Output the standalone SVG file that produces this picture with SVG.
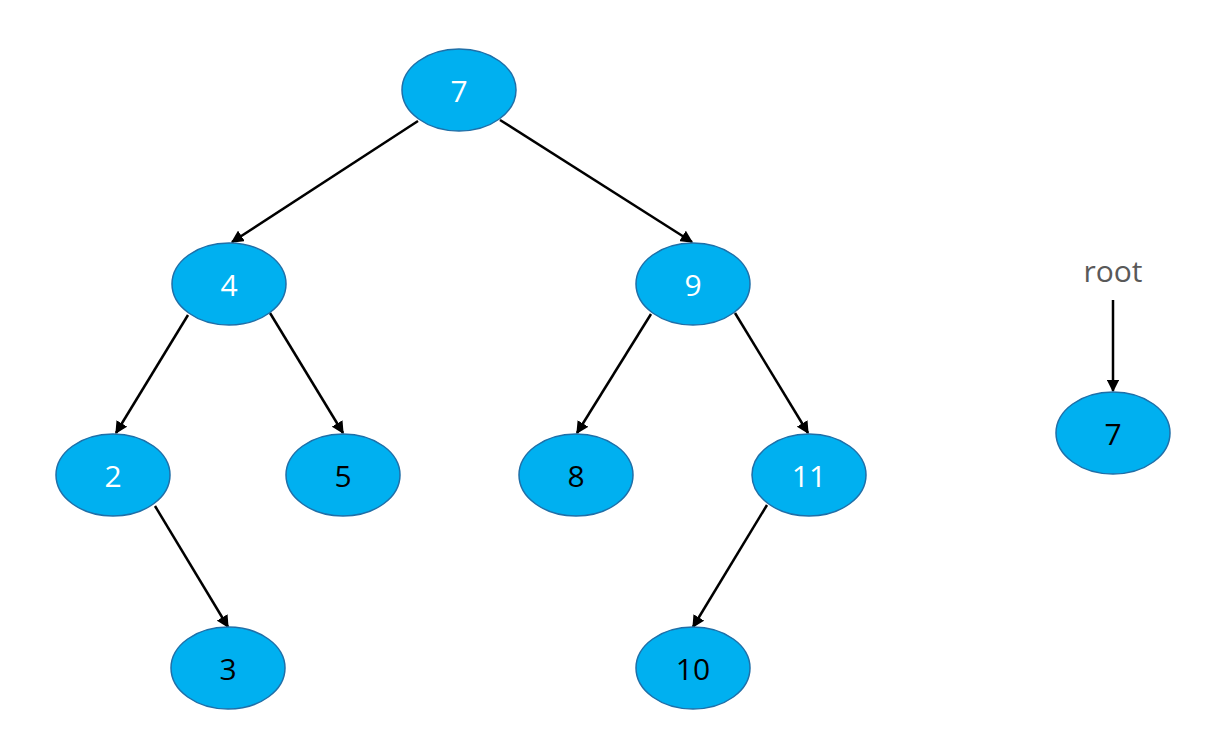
<svg xmlns="http://www.w3.org/2000/svg" width="1221" height="742" viewBox="0 0 1221 742">
<style>
.n ellipse{fill:#00B0F0;stroke:#1F6FA8;stroke-width:1.5}
.n text{font-family:"Open Sans","Liberation Sans",sans-serif;font-size:30px;text-anchor:middle;dominant-baseline:central}
.w{fill:#fff}.b{fill:#000}
.e line{stroke:#000;stroke-width:2.5;marker-end:url(#a)}
</style>
<defs><marker id="a" viewBox="0 0 10 10" refX="9" refY="5" markerWidth="5" markerHeight="5" orient="auto"><path d="M0,0L10,5L0,10z" fill="#000"/></marker></defs>
<rect width="1221" height="742" fill="#fff"/>
<g class="e">
<line x1="418" y1="121" x2="232" y2="242"/>
<line x1="500" y1="120" x2="692" y2="242"/>
<line x1="188" y1="315" x2="116" y2="433"/>
<line x1="270" y1="313" x2="343" y2="433"/>
<line x1="651" y1="314" x2="577" y2="433"/>
<line x1="735" y1="313" x2="808" y2="433"/>
<line x1="155" y1="506" x2="228" y2="627"/>
<line x1="767" y1="505" x2="693" y2="627"/>
<line x1="1113" y1="300" x2="1113" y2="391"/>
</g>
<g id="n7" class="n"><ellipse cx="459" cy="90" rx="57" ry="41"/><text x="459" y="90" class="w">7</text></g>
<g id="n4" class="n"><ellipse cx="229" cy="284" rx="57" ry="41"/><text x="229" y="284" class="w">4</text></g>
<g id="n9" class="n"><ellipse cx="693" cy="284" rx="57" ry="41"/><text x="693" y="284" class="w">9</text></g>
<g id="n2" class="n"><ellipse cx="113" cy="475" rx="57" ry="41"/><text x="113" y="475" class="w">2</text></g>
<g id="n5" class="n"><ellipse cx="343" cy="475" rx="57" ry="41"/><text x="343" y="475" class="b">5</text></g>
<g id="n8" class="n"><ellipse cx="576" cy="475" rx="57" ry="41"/><text x="576" y="475" class="b">8</text></g>
<g id="n11" class="n"><ellipse cx="809" cy="475" rx="57" ry="41"/><text x="809" y="475" class="w">11</text></g>
<g id="n3" class="n"><ellipse cx="228" cy="668" rx="57" ry="41"/><text x="228" y="668" class="b">3</text></g>
<g id="n10" class="n"><ellipse cx="693" cy="668" rx="57" ry="41"/><text x="693" y="668" class="b">10</text></g>
<g id="r7" class="n"><ellipse cx="1113" cy="433" rx="57" ry="41"/><text x="1113" y="433" class="b">7</text></g>
<g id="root"><text x="1113" y="270" font-family="Open Sans,Liberation Sans,sans-serif" font-size="30" fill="#595959" text-anchor="middle" dominant-baseline="central">root</text></g>
</svg>
